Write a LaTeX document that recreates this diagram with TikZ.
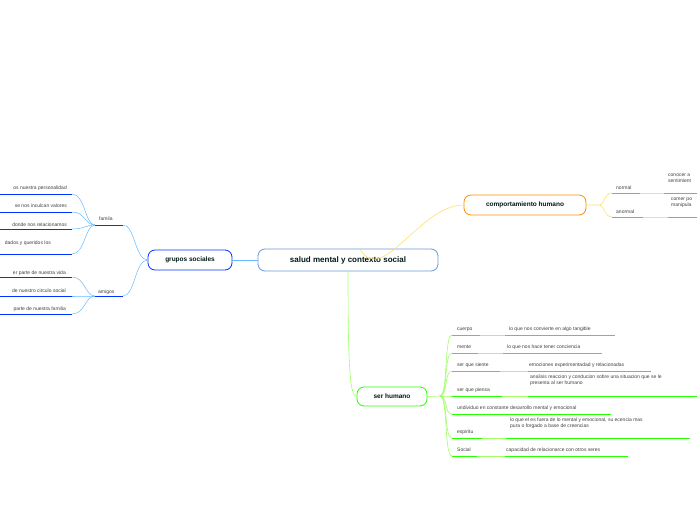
\documentclass[tikz,border=0pt]{standalone}
\usepackage{fontspec}
\setmainfont{Liberation Sans}
\begin{document}
\begin{tikzpicture}[x=1pt,y=-1pt,
  t/.style={font=\fontsize{5}{6}\selectfont,text=black!75,inner sep=0pt,anchor=base west,align=left},
  tr/.style={t,anchor=base east,align=right},
  main/.style={draw,rounded corners=7pt,line width=0.8pt,font=\bfseries\fontsize{6.5}{8}\selectfont,text=black!80!teal,fill=white,inner sep=0pt},
  bl/.style={draw=blue!80!cyan,line width=0.9pt},
  blc/.style={draw=blue!45!cyan!60,line width=0.5pt},
  og/.style={draw=orange!90!yellow,line width=0.9pt},
  ogc/.style={draw=orange!40!yellow!60,line width=0.6pt},
  gr/.style={draw=green!80!lime,line width=0.9pt},
  grc/.style={draw=green!50!lime!60,line width=0.6pt}]
\useasboundingbox (0,0) rectangle (697,520);
\begin{scope}
\clip (0,0) rectangle (697,520);
% center
\node[main,draw=cyan!50!blue!60,minimum width=180pt,minimum height=22pt,font=\bfseries\fontsize{8}{9}\selectfont] (c) at (348,260) {salud mental y contexto social};
\node[main,draw=blue!80!cyan,minimum width=84pt,minimum height=20pt] (g) at (190,260) {grupos sociales};
\node[main,draw=orange!90!yellow,minimum width=122pt,minimum height=20pt] (h) at (525,205) {comportamiento humano};
\node[main,draw=green!80!lime,minimum width=70pt,minimum height=19pt] (s) at (392,396.5) {ser humano};
\draw[blc] (c.west) -- (g.east);
\draw[ogc] (360,249) to[out=-60,in=180] (h.west);
\draw[grc] (348,271) .. controls (348,370) and (350,396) .. (s.west);
% grupos
\coordinate (fa1) at (95,225); \coordinate (fa2) at (123,225);
\coordinate (am1) at (95,296); \coordinate (am2) at (123,296);
\node[t] (fam) at (99,220) {famila};
\node[t] (ami) at (98,293) {amigos};
\draw[bl] (fa1) -- (fa2); \draw[bl] (am1) -- (am2);
\draw[blc] (g.west) .. controls (135,260) and (135,225) .. (fa2);
\draw[blc] (g.west) .. controls (135,260) and (135,296) .. (am2);
\foreach \y/\tx [count=\i] in {194/{os nuestra personalidad},212/{ se nos inculcan valores},229/{donde nos relacionamos},254/{dados y queridos los}} {
  \coordinate (fl\i) at (72,\y);
  \draw[bl] (0,\y) -- (fl\i);
  \draw[blc] (fl\i) .. controls (85,\y) and (85,225) .. (fa1);
}
\node[tr] (f1) at (67,189.5) {os nuestra personalidad};
\node[tr] (f2) at (67,207.5) {se nos inculcan valores};
\node[tr] (f3) at (67,226) {donde nos relacionamos};
\node[tr] (f4) at (51,244) {dados y queridos los};
\foreach \y [count=\i] in {277,296,314} {
  \coordinate (al\i) at (72,\y);
  \draw[bl] (0,\y) -- (al\i);
  \draw[blc] (al\i) .. controls (85,\y) and (85,296) .. (am1);
}
\node[tr] (a1) at (66,274) {er parte de nuestra vida};
\node[tr] (a2) at (66,292.5) {de nuestro circulo social};
\node[tr] (a3) at (66,310.5) {parte de nuestra familia};
% comportamiento
\coordinate (n1) at (612,193); \coordinate (n2) at (640,193);
\coordinate (an1) at (612,217); \coordinate (an2) at (643,217);
\draw[og] (n1) -- (n2); \draw[og] (an1) -- (an2);
\draw[ogc] (h.east) -- (600,205) .. controls (604,205) and (604,193) .. (n1);
\draw[ogc] (600,205) .. controls (604,205) and (604,217) .. (an1);
\node[t] (nt) at (616,189) {normal};
\node[t] (ant) at (616,213) {anormal};
\coordinate (c1) at (664,193); \coordinate (c2) at (668,217);
\draw[ogc] (n2) -- (c1); \draw[og] (c1) -- (697,193);
\draw[ogc] (an2) -- (c2); \draw[og] (c2) -- (697,217);
\node[t] (ct) at (668,182) {conocer a\\sentimient};
\node[t] (mt) at (671,206) {comer po\\manipula};
% ser humano
\coordinate (sj) at (440,396);
\draw[grc] (s.east) -- (sj);
\foreach \y/\xe/\lab [count=\i] in {335/480/cuerpo,353/478/mente,371/500/ser que siente,396/502/ser que piensa,414/611/undividuo en constante desarrollo mental y emocional,438/482/espiritu,456/477/Social} {
  \coordinate (sl\i) at (452,\y); \coordinate (sr\i) at (\xe,\y);
  \draw[gr] (sl\i) -- (sr\i);
  \draw[grc] (sj) .. controls (448,396) and (444,\y) .. (sl\i);
  \node[t] (sn\i) at (457,\y-4.5) {\lab};
}
\foreach \i/\xa/\xb/\xe/\tx in {1/505/509/615/{lo que nos convierte en algo tangible},2/503/507/602/{lo que nos hace tener conciencia},3/528/529/651/{emociones experimentadad y relacionadas},4/528/530/697/{analisis  reaccion y  conducion sobre una situacion que se le\\presenta al ser humano},6/506/510/690/{lo que el es fuera de lo mental y emocional,  su ecencia mas\\pura o forgado a base de creencias},7/505/506/628/{capacidad de relacionarce con  otros seres}} {
  \path (sr\i) ++(0,0) coordinate (tmp);
  \draw[grc] (sr\i) -- (\xa,0|-sr\i);
  \draw[gr] (\xa,0|-sr\i) -- (\xe,0|-sr\i);
}
\node[t] (d1) at (509,330.5) {lo que nos convierte en algo tangible};
\node[t] (d2) at (507,348.5) {lo que nos hace tener conciencia};
\node[t] (d3) at (529,366.5) {emociones experimentadad y relacionadas};
\node[t] (d4) at (530,384) {analisis  reaccion y  conducion sobre una situacion que se le\\presenta al ser humano};
\node[t] (d6) at (510,427) {lo que el es fuera de lo mental y emocional,  su ecencia mas\\pura o forgado a base de creencias};
\node[t] (d7) at (506,451.5) {capacidad de relacionarce con  otros seres};
\end{scope}
\end{tikzpicture}
\end{document}
